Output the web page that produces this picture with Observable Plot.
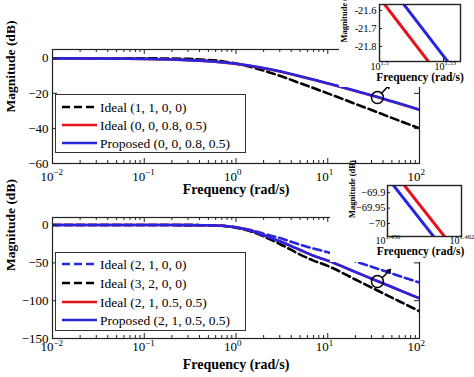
<!DOCTYPE html>
<html><head><meta charset="utf-8">
<script src="https://cdn.jsdelivr.net/npm/d3@7"></script>
<script src="https://cdn.jsdelivr.net/npm/@observablehq/plot@0.6"></script>
<style>
body{margin:0;background:#fff}
#chart{position:relative;width:474px;height:377px;overflow:hidden;font-family:"Liberation Serif","Times New Roman",serif;background:#fff}
#chart > *{position:absolute}
</style>
</head><body><div id="chart"></div>
<script>
// ---------- data ----------
const freq = [0.01,0.02,0.05,0.1,0.2,0.3,0.5,0.7,1,1.5,2,3,5,7,10,20,30,50,70,100];
// top panel
const topNames = ["Ideal (1, 1, 0, 0)", "Ideal (0, 0, 0.8, 0.5)", "Proposed (0, 0, 0.8, 0.5)"];
const topIdeal1100 = [0,0,-0.01,-0.04,-0.17,-0.37,-0.97,-1.7,-3.0,-5.1,-7.0,-10.0,-14.2,-17.0,-20.0,-26.0,-29.5,-34.0,-36.9,-40.0];
const topIdealFrac = [-0.05,-0.09,-0.2,-0.37,-0.7,-1.05,-1.7,-2.35,-3.22,-4.55,-5.7,-7.58,-10.33,-12.31,-14.44,-18.64,-21.19,-24.64,-26.94,-29.44];
const topProposed = [-0.05,-0.09,-0.2,-0.37,-0.7,-1.03,-1.66,-2.28,-3.14,-4.44,-5.57,-7.44,-10.19,-12.17,-14.3,-18.5,-21.05,-24.5,-26.8,-29.3];
const topYTicks = [0,-20,-40,-60];
const topYLabels = ["0","\u221220","\u221240","\u221260"];
// bottom panel
const botNames = ["Ideal (2, 1, 0, 0)", "Ideal (3, 2, 0, 0)", "Ideal (2, 1, 0.5, 0.5)", "Proposed (2, 1, 0.5, 0.5)"];
const botIdeal2100 = [0,0,0,0,-0.01,-0.05,-0.3,-0.9,-3.0,-7.0,-11.5,-17,-26,-31,-36,-48,-55,-64,-70,-76];
const botIdeal3200 = [0,0,0,0,-0.01,-0.05,-0.3,-1.0,-3.5,-9,-15,-25,-39,-47,-54,-72,-82.6,-96,-104.7,-114];
const botIdealFrac = [0,0,0,0,-0.01,-0.05,-0.3,-0.9,-2.95,-7.95,-13.45,-21.45,-32.95,-40.45,-46.95,-61.95,-70.85,-81.85,-89.25,-96.95];
const botProposed = [0,0,0,0,-0.01,-0.05,-0.3,-0.9,-3.0,-8,-13.5,-21.5,-33,-40.5,-47,-62,-70.9,-81.9,-89.3,-97];
const botYTicks = [0,-50,-100,-150];
const botYLabels = ["0","\u221250","\u2212100","\u2212150"];
// x axis
const xMajor = [0.01,0.1,1,10,100];
const xExpLabels = ["\u22122","\u22121","0","1","2"];
// insets
const topInsetFreq = [30.90, 35.48];
const topInsetRed = [-21.376, -22.300];
const topInsetBlue = [-21.237, -22.161];
const topInsetXTicks = [31.623, 33.884];
const topInsetXExps = ["1.5","1.53"];
const topInsetYTicks = [-21.6,-21.7,-21.8];
const topInsetYLabels = ["-21.6","-21.7","-21.8"];
const botInsetFreq = [28.51, 29.04];
const botInsetRed = [-69.756, -70.163];
const botInsetBlue = [-69.801, -70.208];
const botInsetXTicks = [28.576, 28.973];
const botInsetXExps = ["1.456","1.462"];
const botInsetYTicks = [-69.9,-69.95,-70];
const botInsetYLabels = ["\u221269.9","\u221269.95","\u221270"];
// callouts (circle + arrow) in data units
const topCircle = [{f:34.8, db:-22.4}];
const topArrow = [{f1:38.5, db1:-20.1, f2:47.1, db2:-15.0}];
const botCircle = [{f:34.8, db:-74.6}];
const botArrow = [{f1:39.5, db1:-69.3, f2:48.3, db2:-58.8}];

// ---------- styles ----------
const FONT = '"Liberation Serif","Times New Roman",serif';
const BLUE = "#2626e0", RED = "#e8101a", BLACK = "#000";
const xMinor = [];
for (const d of [0.01,0.1,1,10]) for (let k=2;k<=9;k++) xMinor.push(d*k);
const rows = (xs, ys) => xs.map((f,i)=>({f, db: ys[i]}));

const chart = document.getElementById("chart");
function place(el, left, top){ el.style.left = left+"px"; el.style.top = top+"px"; chart.appendChild(el); return el; }

function mainPanel({height, mT, mB, yDomain, yTicks, yLabels, series, circle, arrow, labDy, expDy, titleDy}) {
  const W = 474, mL = 52, mR = 55;
  const fw = W-mL-mR, fh = height-mT-mB;
  return Plot.plot({
    width: W, height, marginLeft: mL, marginRight: mR, marginTop: mT, marginBottom: mB,
    style: {background: "none", overflow: "visible", fontFamily: FONT, color: "#000"},
    x: {type: "log", domain: [0.01, 100], axis: null},
    y: {domain: yDomain, axis: null},
    marks: [
      ...series.map(s => Plot.line(s.data, {x: "f", y: "db", stroke: s.color, strokeWidth: 2.6, strokeDasharray: s.dash, curve: "monotone-x", clip: true})),
      Plot.dot(circle, {x: "f", y: "db", r: 6, stroke: "#000", strokeWidth: 1.5, fill: "none"}),
      Plot.arrow(arrow, {x1: "f1", y1: "db1", x2: "f2", y2: "db2", stroke: "#000", strokeWidth: 1.5, headLength: 7}),
      Plot.frame({stroke: "#222", strokeWidth: 1.2}),
      Plot.tickX(xMajor, {x: d=>d, insetTop: fh-5, stroke: "#222"}),
      Plot.tickX(xMajor, {x: d=>d, insetBottom: fh-5, stroke: "#222"}),
      Plot.tickX(xMinor, {x: d=>d, insetTop: fh-3, stroke: "#222"}),
      Plot.tickX(xMinor, {x: d=>d, insetBottom: fh-3, stroke: "#222"}),
      Plot.tickY(yTicks, {y: d=>d, insetRight: fw-5, stroke: "#222"}),
      Plot.tickY(yTicks, {y: d=>d, insetLeft: fw-5, stroke: "#222"}),
      Plot.text(xMajor, {x: d=>d, frameAnchor: "bottom", dy: labDy, dx: 1, text: () => "10", textAnchor: "end", fontSize: 13}),
      Plot.text(xMajor, {x: d=>d, frameAnchor: "bottom", dy: expDy, dx: 1, text: (d,i) => xExpLabels[i], textAnchor: "start", fontSize: 9}),
      Plot.text(yTicks, {y: d=>d, frameAnchor: "left", dx: -4, textAnchor: "end", text: (d,i) => yLabels[i], fontSize: 13}),
      Plot.text(["Magnitude (dB)"], {frameAnchor: "left", dx: -42, dy: titleDy, rotate: -90, fontWeight: "bold", fontSize: 13.5}),
      Plot.text(["Frequency (rad/s)"], {frameAnchor: "bottom", dy: 30.5, fontWeight: "bold", fontSize: 14})
    ]
  });
}

function insetPanel({width, height, mL, mR, mT, mB, xDomain, yDomain, xTicks, xExps, yTicks, yLabels, series, bg, labDy, expDy, labDx, ylabDx, ylabDy, titleDy, titleDx}) {
  const fw = width-mL-mR, fh = height-mT-mB;
  return Plot.plot({
    width, height, marginLeft: mL, marginRight: mR, marginTop: mT, marginBottom: mB,
    style: {background: bg, overflow: "visible", fontFamily: FONT, color: "#000"},
    x: {type: "log", domain: xDomain, axis: null},
    y: {domain: yDomain, axis: null},
    marks: [
      Plot.frame({fill: "#fff"}),
      ...series.map(s => Plot.line(s.data, {x: "f", y: "db", stroke: s.color, strokeWidth: 3, clip: true})),
      Plot.frame({stroke: "#222", strokeWidth: 1.4}),
      Plot.tickX(xTicks, {x: d=>d, insetTop: fh-3, stroke: "#222"}),
      Plot.tickY(yTicks, {y: d=>d, insetRight: fw-3, stroke: "#222"}),
      Plot.text(xTicks, {x: d=>d, frameAnchor: "bottom", dy: labDy, dx: labDx, text: () => "10", textAnchor: "end", fontSize: 10}),
      Plot.text(xTicks, {x: d=>d, frameAnchor: "bottom", dy: expDy, dx: labDx, text: (d,i) => xExps[i], textAnchor: "start", fontSize: 6.5}),
      Plot.text(yTicks, {y: d=>d, frameAnchor: "left", dx: ylabDx, textAnchor: "end", text: (d,i) => yLabels[i], fontSize: 10.5}),
      Plot.text(["Magnitude (dB)"], {frameAnchor: "left", dx: -35, dy: ylabDy, rotate: -90, fontWeight: "bold", fontSize: 8.5}),
      Plot.text(["Frequency (rad/s)"], {frameAnchor: "bottom", dy: titleDy, dx: titleDx, fontWeight: "bold", fontSize: 11.5})
    ]
  });
}

function legend(names, colors, dashes, w, h, rowYs) {
  const svg = d3.create("svg").attr("width", w).attr("height", h).style("overflow", "visible");
  svg.append("rect").attr("x", 0.5).attr("y", 0.5).attr("width", w-1).attr("height", h-1)
     .attr("fill", "#fff").attr("stroke", "#333").attr("stroke-width", 1);
  names.forEach((n, i) => {
    svg.append("line").attr("x1", 7).attr("x2", 42).attr("y1", rowYs[i]).attr("y2", rowYs[i])
       .attr("stroke", colors[i]).attr("stroke-width", 2.6).attr("stroke-dasharray", dashes[i] || null);
    svg.append("text").attr("x", 45).attr("y", rowYs[i]).attr("dy", "0.35em")
       .attr("font-family", FONT).attr("font-size", 13.5).attr("fill", "#000").text(n);
  });
  return svg.node();
}

// ---------- top main ----------
const topSeries = [
  {data: rows(freq, topIdeal1100), color: BLACK, dash: "8,4"},
  {data: rows(freq, topIdealFrac), color: RED, dash: null},
  {data: rows(freq, topProposed), color: BLUE, dash: null}
];
place(mainPanel({height: 200, mT: 49, mB: 37, yDomain: [-60, 5], yTicks: topYTicks, yLabels: topYLabels,
  series: topSeries, circle: topCircle, arrow: topArrow, labDy: 17, expDy: 11.5, titleDy: 6}), 0, 0);

// ---------- bottom main ----------
const botSeries = [
  {data: rows(freq, botIdeal2100), color: BLUE, dash: "8,4"},
  {data: rows(freq, botIdeal3200), color: BLACK, dash: "8,4"},
  {data: rows(freq, botIdealFrac), color: RED, dash: null},
  {data: rows(freq, botProposed), color: BLUE, dash: null}
];
place(mainPanel({height: 200, mT: 40, mB: 39, yDomain: [-150, 10], yTicks: botYTicks, yLabels: botYLabels,
  series: botSeries, circle: botCircle, arrow: botArrow, labDy: 12.5, expDy: 7, titleDy: -7}), 0, 177);

// ---------- legends ----------
place(legend(topNames, [BLACK, RED, BLUE], ["8,4", null, null], 191, 59, [13, 31, 49]), 55, 94);
place(legend(botNames, [BLUE, BLACK, RED, BLUE], ["8,4", "8,4", null, null], 191, 79, [12, 31, 50, 68]), 55, 252);

// ---------- insets ----------
place(insetPanel({width: 135, height: 87, mL: 40, mR: 14, mT: 4, mB: 26,
  xDomain: [31.62, 34.51], yDomain: [-21.883, -21.567], xTicks: topInsetXTicks, xExps: topInsetXExps,
  yTicks: topInsetYTicks, yLabels: topInsetYLabels, bg: "#fff",
  series: [{data: rows(topInsetFreq, topInsetRed), color: RED}, {data: rows(topInsetFreq, topInsetBlue), color: BLUE}],
  labDy: 8, expDy: 3.5, labDx: 1, ylabDx: -3, ylabDy: 9.5, titleDy: 19.5, titleDx: 0}), 339, 0);

const wb = document.createElement("div");
wb.style.width = "144px"; wb.style.height = "62px"; wb.style.background = "#fff";
place(wb, 330, 200);
place(insetPanel({width: 144, height: 97, mL: 57, mR: 13, mT: 20, mB: 26,
  xDomain: [28.576, 28.973], yDomain: [-70.042, -69.877], xTicks: botInsetXTicks, xExps: botInsetXExps,
  yTicks: botInsetYTicks, yLabels: botInsetYLabels, bg: "none",
  series: [{data: rows(botInsetFreq, botInsetRed), color: RED}, {data: rows(botInsetFreq, botInsetBlue), color: BLUE}],
  labDy: 7, expDy: 2.5, labDx: -2, ylabDx: -2, ylabDy: 7, titleDy: 18.5, titleDx: -4}), 330, 165);
</script></body></html>
